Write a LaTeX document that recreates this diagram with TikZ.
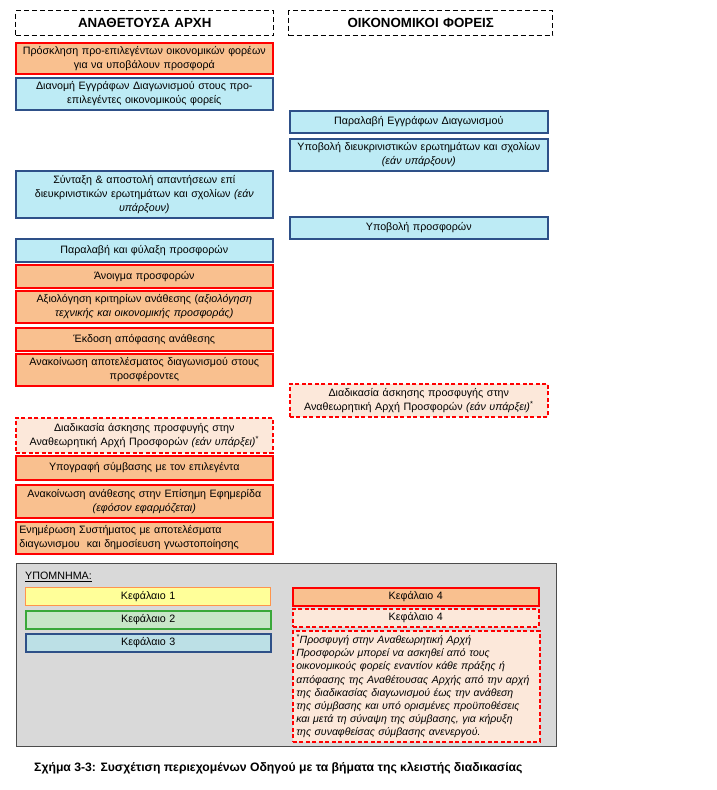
\documentclass[tikz,border=0pt]{standalone}
\usepackage{fontspec}
\setmainfont{Liberation Sans}
\usepackage{xcolor}
\definecolor{portokali}{HTML}{F9C08F}
\definecolor{anoixto}{HTML}{FCE8DA}
\definecolor{galazio}{HTML}{BDEBF5}
\definecolor{galazioL}{HTML}{BCE0E6}
\definecolor{mple}{HTML}{2E5088}
\definecolor{kitrino}{HTML}{FFFF99}
\definecolor{prasino}{HTML}{C8E6C8}
\definecolor{prasinoB}{HTML}{3AA83A}
\definecolor{gkri}{HTML}{D9D9D9}
\tikzset{
  keimeno/.style={inner sep=1pt, font=\fontsize{10.7}{14}\selectfont, align=center, anchor=north west},
  header/.style={keimeno, draw=black, line width=1.4pt, dash pattern=on 5pt off 3pt,
    minimum height=25, font=\fontsize{13.3}{15}\selectfont\bfseries},
  kef1/.style={keimeno, draw=orange!80!red!70, fill=kitrino, line width=1.2pt},
  kef2/.style={keimeno, draw=prasinoB, fill=prasino, line width=1.5pt},
  kef3/.style={keimeno, draw=mple, fill=galazio, line width=1.6pt},
  kef4/.style={keimeno, draw=red, fill=portokali, line width=1.6pt},
  kef4d/.style={keimeno, draw=red, fill=anoixto, line width=1.6pt, dash pattern=on 4pt off 2.5pt},
  aristera/.style={minimum width=257, text width=252},
  dexia/.style={minimum width=258, text width=253},
  ypomnima/.style={minimum width=245, text width=238, minimum height=18}
}
\begin{document}
\begin{tikzpicture}[x=1pt,y=1pt,yscale=-1]
\useasboundingbox (0,0) rectangle (717,790);
%Επικεφαλίδες
\node[header, minimum width=258, text width=250] (anathetousa) at (15,10) {ΑΝΑΘΕΤΟΥΣΑ ΑΡΧΗ};
\node[header, minimum width=264, text width=256] (foreis) at (288,10) {ΟΙΚΟΝΟΜΙΚΟΙ ΦΟΡΕΙΣ};
%Αναθέτουσα Αρχή
\node[kef4, aristera, minimum height=31] (prosklisi) at (15,42) {Πρόσκληση προ-επιλεγέντων οικονομικών φορέων\\για να υποβάλουν προσφορά};
\node[kef3, aristera, minimum height=32] (dianomi) at (15,77) {Διανομή Εγγράφων Διαγωνισμού στους προ-\\επιλεγέντες οικονομικούς φορείς};
\node[kef3, aristera, minimum height=47] (syntaxi) at (15,170) {Σύνταξη \& αποστολή απαντήσεων επί\\διευκρινιστικών ερωτημάτων και σχολίων \textit{(εάν}\\\textit{υπάρξουν)}};
\node[kef3, aristera, minimum height=23] (fylaxi) at (15,238) {Παραλαβή και φύλαξη προσφορών};
\node[kef4, aristera, minimum height=23] (anoigma) at (15,264) {Άνοιγμα προσφορών};
\node[kef4, aristera, minimum height=32] (axiologisi) at (15,290) {Αξιολόγηση κριτηρίων ανάθεσης (\textit{αξιολόγηση}\\\textit{τεχνικής και οικονομικής προσφοράς)}};
\node[kef4, aristera, minimum height=23] (ekdosi) at (15,327) {Έκδοση απόφασης ανάθεσης};
\node[kef4, aristera, minimum height=32] (anakoinosi) at (15,353) {Ανακοίνωση αποτελέσματος διαγωνισμού στους\\προσφέροντες};
\node[kef4d, aristera, minimum height=35] (prosfygiA) at (15,417) {Διαδικασία άσκησης προσφυγής στην\\Αναθεωρητική Αρχή Προσφορών \textit{(εάν υπάρξει)}\textsuperscript{*}};
\node[kef4, aristera, minimum height=24] (ypografi) at (15,455) {Υπογραφή σύμβασης με τον επιλεγέντα};
\node[kef4, aristera, minimum height=33] (efimerida) at (15,484) {Ανακοίνωση ανάθεσης στην Επίσημη Εφημερίδα\\\textit{(εφόσον εφαρμόζεται)}};
\node[kef4, minimum width=257, text width=250, inner xsep=3.5pt, minimum height=32, align=left] (enimerosi) at (15,521) {Ενημέρωση Συστήματος με αποτελέσματα\\διαγωνισμου\ \ και δημοσίευση γνωστοποίησης};
%Οικονομικοί Φορείς
\node[kef3, dexia, minimum height=22] (paralavi) at (289,110) {Παραλαβή Εγγράφων Διαγωνισμού};
\node[kef3, dexia, minimum height=32] (erotimata) at (289,138) {Υποβολή διευκρινιστικών ερωτημάτων και σχολίων\\\textit{(εάν υπάρξουν)}};
\node[kef3, dexia, minimum height=22] (ypovoli) at (289,216) {Υποβολή προσφορών};
\node[kef4d, dexia, minimum height=33] (prosfygiF) at (289,383) {Διαδικασία άσκησης προσφυγής στην\\Αναθεωρητική Αρχή Προσφορών \textit{(εάν υπάρξει)}\textsuperscript{*}};
%Υπόμνημα
\node[keimeno, draw=black!70, fill=gkri, line width=1.4pt, minimum width=540, minimum height=183] (plaisio) at (16,563) {};
\node[keimeno, anchor=west] (titlos) at (24,577) {\underline{ΥΠΟΜΝΗΜΑ:}};
\node[kef1, ypomnima] (k1) at (25,587) {Κεφάλαιο 1};
\node[kef2, ypomnima] (k2) at (25,610) {Κεφάλαιο 2};
\node[kef3, ypomnima, fill=galazioL] (k3) at (25,633) {Κεφάλαιο 3};
\node[kef4, ypomnima, minimum width=246] (k4) at (292,587) {Κεφάλαιο 4};
\node[kef4d, ypomnima, minimum width=246] (k4d) at (292,608) {Κεφάλαιο 4};
\node[kef4d, minimum width=247, minimum height=111, text width=240, align=left, inner xsep=3.5pt,
  font=\fontsize{10.5}{13.2}\selectfont\itshape] (simeiosi) at (292,630)
  {\textsuperscript{*}Προσφυγή στην Αναθεωρητική Αρχή\\Προσφορών μπορεί να ασκηθεί από τους\\οικονομικούς φορείς εναντίον κάθε πράξης ή\\απόφασης της Αναθέτουσας Αρχής από την αρχή\\της διαδικασίας διαγωνισμού έως την ανάθεση\\της σύμβασης και υπό ορισμένες προϋποθέσεις\\και μετά τη σύναψη της σύμβασης, για κήρυξη\\της συναφθείσας σύμβασης ανενεργού.};
%Λεζάντα
\node[keimeno, anchor=west, font=\fontsize{12.2}{14}\selectfont\bfseries] (lezanta) at (33,768) {Σχήμα 3-3: Συσχέτιση περιεχομένων Οδηγού με τα βήματα της κλειστής διαδικασίας};
\end{tikzpicture}
\end{document}
